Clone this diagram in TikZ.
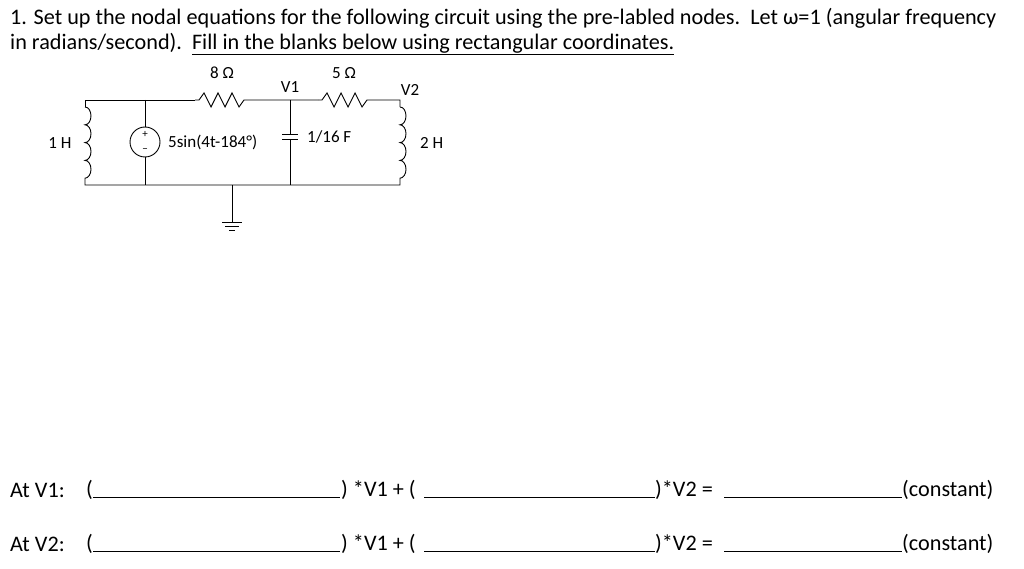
\documentclass[tikz,border=0pt]{standalone}
\usepackage{fontspec}
\setmainfont{Carlito}
\begin{document}
\begin{tikzpicture}[x=1pt,y=-1pt,wire/.style={line width=0.9pt},lbl/.style={font=\fontsize{17}{18}\selectfont,inner sep=0pt},txt/.style={font=\fontsize{22.2}{24}\selectfont,inner sep=0pt,anchor=west},bl/.style={line width=0.8pt}]
\useasboundingbox (0,0) rectangle (1024,569);
\node[txt] (t1) at (10,18) {1. Set up the nodal equations for the following circuit using the pre-labled nodes.\ \ Let ω=1 (angular frequency};
\node[txt] (t2) at (10,44) {in radians/second).\ \ \underline{Fill in the blanks below using rectangular coordinates.}};
% coordinates
\coordinate (tl) at (85,100); \coordinate (bl) at (85,185);
\coordinate (st) at (145,100); \coordinate (sb) at (145,185);
\coordinate (v1) at (290,100); \coordinate (v1b) at (290,185);
\coordinate (tr) at (400,100); \coordinate (br) at (400,185);
\coordinate (g) at (232,185); \coordinate (gb) at (232,222);
% wires
\draw[wire] (85,107) -- (tl) -- (195,100);
\draw[wire] (195,100) -- ++(4,0) -- ++(5,-7) -- ++(7,14) -- ++(7,-14) -- ++(7,14) -- ++(7,-14) -- ++(7,14) -- ++(5,-7) -- (248,100) -- (v1) -- (318,100);
\draw[wire] (318,100) -- ++(4,0) -- ++(5,-7) -- ++(7,14) -- ++(7,-14) -- ++(7,14) -- ++(7,-14) -- ++(7,14) -- ++(5,-7) -- (370,100) -- (tr) -- (400,107);
% inductors
\draw[wire] (85,107) \foreach \i in {1,...,4}{ arc[start angle=-90,end angle=90,x radius=6,y radius=8.9]} -- (bl) -- (br) -- (400,178);
\draw[wire] (400,107) \foreach \i in {1,...,4}{ arc[start angle=-90,end angle=90,x radius=6,y radius=8.9]};
% source
\node[draw,circle,wire,minimum size=30pt,inner sep=0pt] (src) at (145,142) {};
\draw[wire] (st) -- (src.north) (src.south) -- (sb);
\node[font=\fontsize{11}{11}\selectfont,inner sep=0pt] (pl) at (145,134) {+};
\node[font=\fontsize{11}{11}\selectfont,inner sep=0pt] (mi) at (145,151) {−};
% capacitor
\draw[wire] (v1) -- (290,134) (282,134) -- (298,134) (282,139) -- (298,139) (290,139) -- (v1b);
% ground
\draw[wire] (g) -- (gb) (222,222) -- (242,222) (225,226) -- (239,226) (229,230) -- (235,230);
% labels
\node[lbl] (r1l) at (222,73) {8 Ω};
\node[lbl] (r2l) at (344,73) {5 Ω};
\node[lbl] (v1l) at (290,87) {V1};
\node[lbl] (v2l) at (410,90) {V2};
\node[lbl] (l1l) at (60,143) {1 H};
\node[lbl,anchor=west] (sl) at (168,142) {5sin(4t-184°)};
\node[lbl,anchor=west] (cl) at (307,137) {1/16 F};
\node[lbl,anchor=west] (l2l) at (420,143) {2 H};
% equations
\foreach \y/\v in {490/1,544/2}{
\node[txt] at (10,\y) {At V\v:};
\node[txt] at (86,\y) {(};
\draw[bl] (93,\y+7) -- (340,\y+7);
\node[txt] at (341,\y) {) *V1 + (};
\draw[bl] (424,\y+7) -- (655,\y+7);
\node[txt] at (655,\y) {)*V2 =};
\draw[bl] (724,\y+7) -- (902,\y+7);
\node[txt] at (902,\y) {(constant)};
}
\end{tikzpicture}
\end{document}
